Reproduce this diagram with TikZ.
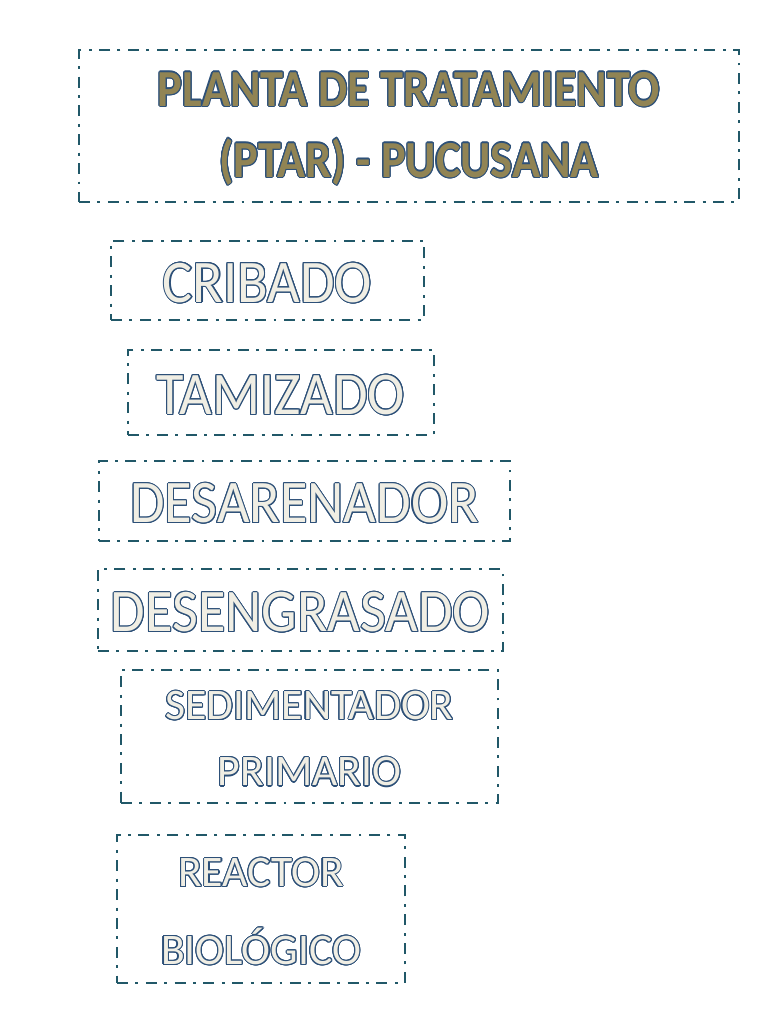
\documentclass[tikz,border=0pt]{standalone}
\usepackage{fontspec}
\setmainfont{Carlito}
\newfontfamily\titlefont[FakeStretch=0.89]{Carlito}
\newfontfamily\stagefont[FakeStretch=0.93]{Carlito}
\usepackage{contour}
\contourlength{0.75pt}
\usetikzlibrary{positioning}

\definecolor{frame}{RGB}{33,88,104}
\definecolor{cream}{RGB}{240,238,228}
\definecolor{rim}{RGB}{45,80,120}
\definecolor{olive}{RGB}{145,132,84}

% texto con contorno, algo bajado
\newcommand{\rimtext}[1]{\raisebox{-2.1pt}[\height][\depth]{\contour{rim}{#1}}}

\begin{document}
\begin{tikzpicture}[
  stage/.style = {draw = frame, line width = 2.1pt,
    dash pattern = on 7.8pt off 5.3pt on 2.1pt off 5.3pt,
    inner sep = 0, align = center},
  big/.style = {font = \stagefont\fontsize{43}{50}\selectfont, text = cream},
  small/.style = {font = \fontsize{31}{47}\selectfont, text = cream}
  ]
  \useasboundingbox (0, 0) rectangle (19.2cm, -25.6cm);

  % titulo
  \node[stage, minimum width = 16.5cm, minimum height = 3.8cm,
  font = \titlefont\bfseries\fontsize{37}{50.5}\selectfont, text = olive]
  (title) at (10.225cm, -3.15cm)
  {\rimtext{PLANTA DE TRATAMIENTO}\\\rimtext{(PTAR) - PUCUSANA}};

  % etapas
  \node[stage, big, minimum width = 7.825cm, minimum height = 1.975cm]
  (cribado) at (6.6875cm, -7.0125cm) {\rimtext{CRIBADO}};
  \node[stage, big, minimum width = 7.65cm, minimum height = 2.125cm]
  (tamizado) at (7.025cm, -9.8125cm) {\rimtext{TAMIZADO}};
  \node[stage, big, minimum width = 10.275cm, minimum height = 2cm]
  (desarenador) at (7.6125cm, -12.525cm) {\rimtext{DESARENADOR}};
  \node[stage, big, minimum width = 10.125cm, minimum height = 2.05cm]
  (desengrasado) at (7.5125cm, -15.25cm) {\rimtext{DESENGRASADO}};
  \node[stage, small, minimum width = 9.425cm, minimum height = 3.325cm]
  (sedimentador) at (7.7375cm, -18.4125cm)
  {\rimtext{SEDIMENTADOR}\\\rimtext{PRIMARIO}};
  \node[stage, small, font = \fontsize{31}{55.5}\selectfont,
  minimum width = 7.2cm, minimum height = 3.7cm]
  (reactor) at (6.525cm, -22.725cm)
  {\rimtext{REACTOR}\\\rimtext{BIOLÓGICO}};
\end{tikzpicture}
\end{document}
